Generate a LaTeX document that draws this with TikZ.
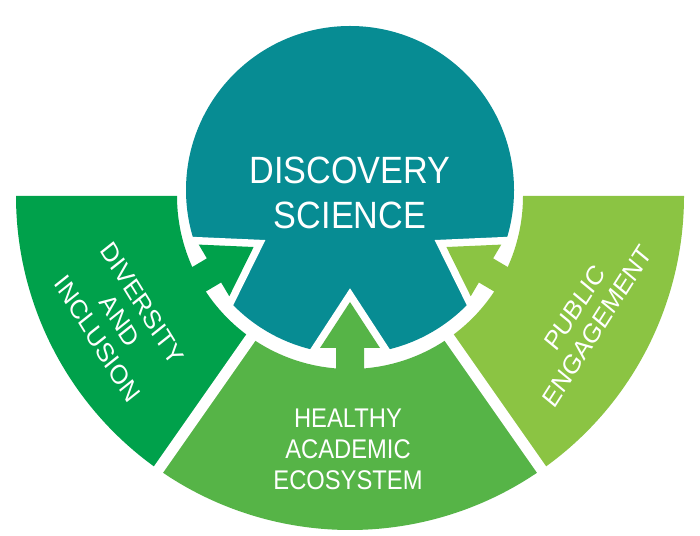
\documentclass[tikz,border=0pt]{standalone}
\usepackage{fontspec}
\setmainfont{Liberation Sans}
\definecolor{teal1}{HTML}{078C93}
\definecolor{gA}{HTML}{00A14B}
\definecolor{gB}{HTML}{56B447}
\definecolor{gC}{HTML}{8BC443}
\begin{document}
\begin{tikzpicture}[x=1pt,y=1pt,
  lbl/.style={text=white,align=center,font=\fontsize{27}{31}\selectfont,xscale=0.88,inner sep=0pt}]
\useasboundingbox (0,0) rectangle (700,535);
\fill[white] (0,0) rectangle (700,535);
\begin{scope}[shift={(350,345)}]
  \fill[teal1] (0,0) circle[radius=164];
  \foreach \a in {210.6,270,329.4}{
    \draw[white,line width=15,line join=miter,rotate=\a]
      (112,0) -- (158,30) -- (158,14) -- (195,14) -- (195,-14) -- (158,-14) -- (158,-30) -- cycle;
  }
\end{scope}
\begin{scope}[shift={(350,339)}]
  \fill[gA] (180:334) arc[start angle=180,end angle=235,radius=334] -- (235:173) arc[start angle=235,end angle=180,radius=173] -- cycle;
  \fill[gB] (235:334) arc[start angle=235,end angle=305,radius=334] -- (305:173) arc[start angle=305,end angle=235,radius=173] -- cycle;
  \fill[gC] (305:334) arc[start angle=305,end angle=360,radius=334] -- (0:173) arc[start angle=360,end angle=305,radius=173] -- cycle;
  \draw[white,line width=11] (235:160) -- (235:345);
  \draw[white,line width=11] (305:160) -- (305:345);
\end{scope}
\begin{scope}[shift={(350,345)}]
  \fill[gA,rotate=210.6] (112,0) -- (158,30) -- (158,14) -- (195,14) -- (195,-14) -- (158,-14) -- (158,-30) -- cycle;
  \fill[gB,rotate=270] (112,0) -- (158,30) -- (158,14) -- (195,14) -- (195,-14) -- (158,-14) -- (158,-30) -- cycle;
  \fill[gC,rotate=329.4] (112,0) -- (158,30) -- (158,14) -- (195,14) -- (195,-14) -- (158,-14) -- (158,-30) -- cycle;
\end{scope}
\node[text=white,align=center,font=\fontsize{38}{45}\selectfont,xscale=0.9] (ds) at (350,342) {DISCOVERY\\SCIENCE};
\node[lbl,rotate=-55] (di) at (120,214) {DIVERSITY\\AND\\INCLUSION};
\node[lbl] (he) at (348,86) {HEALTHY\\ACADEMIC\\ECOSYSTEM};
\node[lbl,rotate=54] (pe) at (586,218) {PUBLIC\\ENGAGEMENT};
\end{tikzpicture}
\end{document}
